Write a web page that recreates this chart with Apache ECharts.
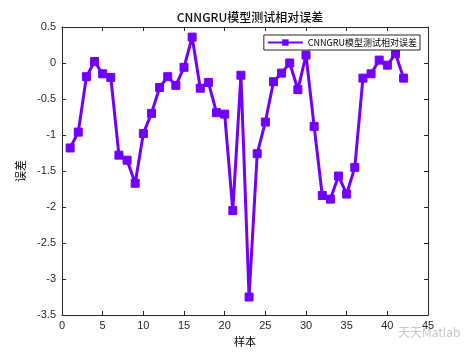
<!DOCTYPE html>
<html>
<head>
<meta charset="utf-8">
<script src="https://cdn.jsdelivr.net/npm/echarts@6/dist/echarts.min.js"></script>
<style>html,body{margin:0;padding:0;background:#fff}#c{width:474px;height:355px}</style>
</head>
<body>
<div id="c"></div>
<script>
var samples = [];
for (var i = 1; i <= 42; i++) samples.push(i);
var errors = [-1.18, -0.96, -0.19, 0.02, -0.15, -0.20, -1.28, -1.35, -1.67, -0.98,
  -0.70, -0.34, -0.19, -0.31, -0.06, 0.36, -0.35, -0.27, -0.69, -0.71,
  -2.05, -0.17, -3.25, -1.26, -0.82, -0.26, -0.14, 0.00, -0.37, 0.11,
  -0.88, -1.84, -1.89, -1.57, -1.82, -1.45, -0.21, -0.15, 0.04, -0.03,
  0.13, -0.21];
var xTicks = [0, 5, 10, 15, 20, 25, 30, 35, 40, 45];
var yTicks = [-3.5, -3, -2.5, -2, -1.5, -1, -0.5, 0, 0.5];
var seriesName = 'CNNGRU模型测试相对误差';

var chart = echarts.init(document.getElementById('c'));
var pts = samples.map(function (s, i) { return [s, errors[i]]; });
var tickFont = { fontFamily: 'Liberation Sans, Arial', fontSize: 11, color: '#262626' };
var lineStyle = { color: '#262626', width: 1 };
chart.setOption({
  animation: false,
  title: {
    text: 'CNNGRU模型测试相对误差',
    left: 245, top: 6, textAlign: 'center',
    textStyle: { fontFamily: 'Noto Sans CJK SC', fontSize: 12, fontWeight: 500, color: '#111' }
  },
  grid: { left: 62, right: 46, top: 27, bottom: 40, show: false },
  legend: {
    data: [seriesName],
    right: 54, top: 35,
    backgroundColor: '#fff',
    borderColor: '#262626', borderWidth: 1, borderRadius: 0,
    padding: [3, 3, 3, 3],
    itemWidth: 35, itemHeight: 8, itemGap: 4,
    textStyle: { fontFamily: 'Noto Sans CJK SC', fontSize: 9, color: '#000' }
  },
  xAxis: [{
    type: 'value', min: 0, max: 45, interval: 5,
    name: '样本', nameLocation: 'middle', nameGap: 21,
    nameTextStyle: { fontFamily: 'Noto Sans CJK SC', fontSize: 11, color: '#000' },
    axisLine: { show: true, onZero: false, lineStyle: lineStyle },
    axisTick: { show: true, inside: true, length: 4, lineStyle: lineStyle },
    axisLabel: Object.assign({ margin: 5 }, tickFont),
    splitLine: { show: false }
  }, {
    type: 'value', min: 0, max: 45, interval: 5, position: 'top',
    axisLine: { show: true, onZero: false, lineStyle: lineStyle },
    axisTick: { show: true, inside: true, length: 4, lineStyle: lineStyle },
    axisLabel: { show: false }, splitLine: { show: false }
  }],
  yAxis: [{
    type: 'value', min: -3.5, max: 0.5, interval: 0.5,
    name: '误差', nameLocation: 'middle', nameGap: 34, nameRotate: 90,
    nameTextStyle: { fontFamily: 'Noto Sans CJK SC', fontSize: 11, color: '#000' },
    axisLine: { show: true, onZero: false, lineStyle: lineStyle },
    axisTick: { show: true, inside: true, length: 4, lineStyle: lineStyle },
    axisLabel: Object.assign({ margin: 6 }, tickFont),
    splitLine: { show: false }
  }, {
    type: 'value', min: -3.5, max: 0.5, interval: 0.5, position: 'right',
    axisLine: { show: true, onZero: false, lineStyle: lineStyle },
    axisTick: { show: true, inside: true, length: 4, lineStyle: lineStyle },
    axisLabel: { show: false }, splitLine: { show: false }
  }],
  graphic: [{
    type: 'text', left: 398, top: 326,
    style: { text: '天天Matlab', fill: '#c8c8c8', fontSize: 12, fontFamily: 'Noto Sans CJK SC' }
  }],
  series: [{
    name: seriesName, type: 'line', data: pts,
    xAxisIndex: 0, yAxisIndex: 0,
    symbol: 'rect', symbolSize: 8,
    lineStyle: { color: '#7200ff', width: 3 },
    itemStyle: { color: '#7200ff', borderColor: '#7200ff' }
  }]
});
</script>
</body>
</html>
